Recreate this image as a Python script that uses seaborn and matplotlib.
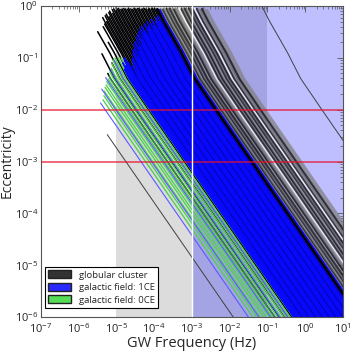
import numpy as np
import pandas as pd
import matplotlib
matplotlib.use('Agg')
import matplotlib.pyplot as plt
from matplotlib.patches import Patch
import seaborn as sns

# shape of one inspiral track at the top right:
# log10(e) and log10(f) shift relative to the point where e = 0.01
tmpl_loge = [0.0, -0.3, -0.9, -1.4, -2.0, -7.0]
tmpl_dlogf = [-1.59, -1.38, -0.91, -0.56, 0.0, 4.74]

# each track: log10 of GW frequency where e = 0.01, and starting eccentricity
gc_band_f = [-2.33, -2.28, -2.22, -2.18, -2.12, -2.08, -2.03, -1.97, -1.93, -1.88, -1.82, -1.78,
             -1.73, -1.67, -1.63, -1.58, -1.52, -1.48, -1.43, -1.37, -1.32, -1.27, -1.23,
             -1.18, -1.12, -1.06]
gc_band_e0 = [0.88, 0.88, 0.86, 0.9, 0.88, 0.87, 0.9, 0.88, 0.86, 0.9, 0.88, 0.89,
              0.87, 0.9, 0.88, 0.86, 0.9, 0.88, 0.87, 0.9, 0.88, 0.86, 0.85,
              0.88, 0.86, 0.84]
gc_edge_f = [-2.36]
gc_edge_e0 = [0.88]
gc_mass_f = [-4.60, -4.49, -4.35, -4.27, -4.15, -4.05,
             -3.97, -3.93, -3.88, -3.84, -3.79, -3.75, -3.70, -3.66, -3.61, -3.57, -3.52, -3.48,
             -3.43, -3.39, -3.34, -3.30, -3.25, -3.21, -3.16, -3.12, -3.07, -3.03, -2.98, -2.94,
             -2.89, -2.85, -2.80, -2.76, -2.71, -2.67, -2.62, -2.58, -2.53, -2.49, -2.44, -2.40]
gc_mass_e0 = [0.05, 0.12, 0.08, 0.32, 0.2, 0.4,
              0.45, 0.6, 0.5, 0.65, 0.7, 0.62, 0.75, 0.8, 0.72, 0.85, 0.88, 0.82,
              0.88, 0.9, 0.86, 0.88, 0.9, 0.88, 0.87, 0.9, 0.88, 0.86, 0.9, 0.88,
              0.89, 0.9, 0.87, 0.88, 0.9, 0.88, 0.86, 0.9, 0.88, 0.89, 0.9, 0.88]
gc_lone_f = [-5.70, 0.44]
gc_lone_e0 = [0.0033, 1.0]

ce1_f = [-4.10, -4.06, -4.02, -3.98, -3.95, -3.91,
         -3.88, -3.84, -3.80, -3.77, -3.73, -3.69, -3.66, -3.62, -3.58, -3.55, -3.51, -3.47,
         -3.44, -3.40, -3.36, -3.33, -3.29, -3.25, -3.22, -3.18, -3.14, -3.11, -3.07, -3.03,
         -3.00, -2.96, -2.92, -2.89, -2.85, -2.81, -2.78, -2.74, -2.70, -2.67, -2.63, -2.59,
         -2.56, -2.52, -2.48, -2.44, -2.31]
ce1_e0 = [0.06, 0.08, 0.07, 0.09, 0.1, 0.08,
          0.05, 0.07, 0.06, 0.09, 0.1, 0.08, 0.12, 0.14, 0.1, 0.15, 0.18, 0.13,
          0.2, 0.16, 0.22, 0.25, 0.18, 0.28, 0.22, 0.32, 0.26, 0.36, 0.3, 0.4,
          0.33, 0.28, 0.45, 0.36, 0.4, 0.5, 0.35, 0.45, 0.4, 0.55, 0.38, 0.5,
          0.45, 0.6, 0.5, 0.65, 0.85]
ce1_thin_f = [-5.30, -5.02, -4.71, -4.47, -4.25]
ce1_thin_e0 = [0.0135, 0.025, 0.042, 0.06, 0.09]

ce0_f = [-5.18, -5.08, -4.99, -4.90, -4.83, -4.75, -4.67, -4.60, -4.52, -4.44, -4.36, -4.28,
         -4.20, -4.12, -4.04]
ce0_e0 = [0.0155, 0.0186, 0.023, 0.027, 0.030, 0.035, 0.039, 0.045, 0.054, 0.063, 0.078, 0.091,
          0.1, 0.1, 0.1]

band_tones = ['white', 'dimgrey', 'black', 'grey', 'black', 'dimgrey', 'black', 'grey', 'black',
              'dimgrey', 'grey', 'white', 'black', 'dimgrey', 'black', 'grey', 'black', 'dimgrey',
              'black', 'white', 'black', 'grey', 'dimgrey', 'black', 'grey', 'grey']


def track(f01, e0):
    le = np.array(tmpl_loge)
    df = np.array(tmpl_dlogf)
    le0 = np.log10(e0)
    d0 = np.interp(le0, le[::-1], df[::-1])
    keep = le < le0
    le = np.r_[le0, le[keep]]
    df = np.r_[d0, df[keep]]
    return 10 ** (f01 + df), 10 ** le


def tracks(fs, e0s, name):
    parts = []
    for i, (f, e) in enumerate(zip(fs, e0s)):
        x, y = track(f, e)
        parts.append(pd.DataFrame({'freq': x, 'ecc': y, 'track': f'{name}{i:02d}'}))
    return pd.concat(parts, ignore_index=True)


sns.set_theme(style='white')
plt.rcParams['font.family'] = ['Open Sans', 'DejaVu Sans']
plt.rcParams['xtick.direction'] = 'in'
plt.rcParams['ytick.direction'] = 'in'

fig = plt.figure(figsize=(3.5, 3.55), dpi=100)
ax = fig.add_axes([0.117, 0.107, 0.863, 0.876])
ax.set(xscale='log', yscale='log')

# detector bands
ax.axvspan(1e-5, 1e-1, color='#dcdcdc', lw=0, zorder=0)
ax.axvspan(1e-3, 1e1, color='#0000ff', alpha=0.25, lw=0, zorder=0)

band = tracks(gc_band_f, gc_band_e0, 'b')
pal = dict(zip(sorted(band['track'].unique()), band_tones))
sns.lineplot(data=band, x='freq', y='ecc', units='track', estimator=None, hue='track',
             palette=pal, lw=1.6, alpha=0.72, legend=False, ax=ax)

mass = tracks(gc_mass_f, gc_mass_e0, 'm')
sns.lineplot(data=mass, x='freq', y='ecc', units='track', estimator=None,
             color='black', lw=1.1, ax=ax)

green = tracks(ce0_f, ce0_e0, 'g')
sns.lineplot(data=green, x='freq', y='ecc', units='track', estimator=None,
             color='#50d050', lw=1.0, ax=ax)

blue = tracks(ce1_f, ce1_e0, 'c')
sns.lineplot(data=blue, x='freq', y='ecc', units='track', estimator=None,
             color='#0808ff', lw=1.3, ax=ax)

# a few globular cluster tracks showing through the blue
some = mass[mass['track'].str[1:].astype(int) % 4 == 0]
sns.lineplot(data=some, x='freq', y='ecc', units='track', estimator=None,
             color='#000020', lw=0.5, alpha=0.5, ax=ax)

edge = tracks(gc_edge_f, gc_edge_e0, 'e')
sns.lineplot(data=edge, x='freq', y='ecc', units='track', estimator=None,
             color='black', lw=1.5, ax=ax)

thin = tracks(ce1_thin_f, ce1_thin_e0, 't')
sns.lineplot(data=thin, x='freq', y='ecc', units='track', estimator=None,
             color='#5a5aff', lw=0.8, ax=ax)

lone = tracks(gc_lone_f, gc_lone_e0, 'l')
sns.lineplot(data=lone, x='freq', y='ecc', units='track', estimator=None,
             color='#404040', lw=0.7, ax=ax)

for yv in [1e-2, 1e-3]:
    ax.axhline(yv, color='#e8102a', lw=1.1, alpha=0.8, zorder=5)
ax.axvline(1e-3, color='white', lw=1.0, zorder=5)

ax.set_xlim(1e-7, 1e1)
ax.set_ylim(1e-6, 1)
ax.set_xlabel('GW Frequency (Hz)', fontsize=10.5, labelpad=0)
ax.set_ylabel('Eccentricity', fontsize=10, labelpad=0)
ax.tick_params(which='both', top=True, right=True, labelsize=8, color='#555555')
ax.tick_params(axis='x', pad=3.5)
ax.tick_params(axis='y', pad=2)
ax.tick_params(which='major', length=4, width=0.6)
ax.tick_params(which='minor', length=2, width=0.5)
for s in ax.spines.values():
    s.set_color('#555555')
    s.set_linewidth(0.8)

handles = [Patch(facecolor='#333333', edgecolor='#222222', label='globular cluster'),
           Patch(facecolor='#2828ff', edgecolor='#222222', label='galactic field: 1CE'),
           Patch(facecolor='#55dd55', edgecolor='#222222', label='galactic field: 0CE')]
leg = ax.legend(handles=handles, loc='lower left', bbox_to_anchor=(0.012, 0.028),
                borderaxespad=0, fontsize=6.8, frameon=True, fancybox=False,
                edgecolor='black', framealpha=1, handlelength=2.4, handleheight=0.9,
                labelspacing=0.35, borderpad=0.4, handletextpad=0.8)
leg.get_frame().set_linewidth(0.8)
leg.set_zorder(10)

fig.savefig('out.png', dpi=100)
